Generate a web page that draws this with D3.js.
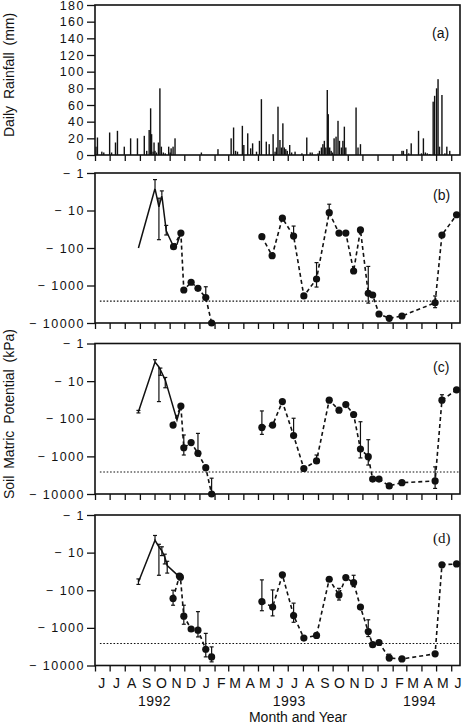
<!DOCTYPE html>
<html lang="en">
<head>
<meta charset="utf-8">
<title>Daily rainfall and soil matric potential</title>
<script src="https://cdn.jsdelivr.net/npm/d3@7"></script>
<style>
  body { margin:0; background:#ffffff; }
  svg { display:block; font-family:"Liberation Sans", Arial, Helvetica, sans-serif; }
  .tick text { font-size:12.5px; letter-spacing:1.5px; fill:#111; }
  .tick line { stroke:#111; stroke-width:1.3; }
</style>
</head>
<body>
<script>

// ---- values ----
// daily rainfall [date, mm]
var rainfall = [
  ["1992-06-03",10],["1992-06-06",21],["1992-06-15",4],["1992-06-19",3],["1992-07-01",27],
  ["1992-07-05",3],["1992-07-13",15],["1992-07-17",29],["1992-07-31",10],["1992-08-13",20],
  ["1992-08-27",20],["1992-09-10",23],["1992-09-15",5],["1992-09-20",30],["1992-09-23",56],
  ["1992-09-25",25],["1992-09-28",4],["1992-09-30",15],["1992-10-02",5],["1992-10-05",3],
  ["1992-10-09",15],["1992-10-12",80],["1992-10-15",10],["1992-10-19",3],["1992-10-23",2],
  ["1992-10-30",10],["1992-11-02",3],["1992-11-04",8],["1992-11-08",10],["1992-11-12",20],
  ["1993-01-05",3],["1993-02-08",7],["1993-03-07",20],["1993-03-12",33],["1993-03-16",5],
  ["1993-03-20",4],["1993-03-30",35],["1993-04-02",12],["1993-04-10",26],["1993-04-16",8],
  ["1993-04-20",14],["1993-04-28",4],["1993-05-04",17],["1993-05-08",67],["1993-05-18",16],
  ["1993-05-24",13],["1993-06-01",25],["1993-06-05",4],["1993-06-08",9],["1993-06-11",58],
  ["1993-06-15",18],["1993-06-18",9],["1993-06-21",38],["1993-06-24",9],["1993-06-27",7],
  ["1993-06-30",5],["1993-07-05",12],["1993-07-09",3],["1993-07-16",4],["1993-07-30",2],
  ["1993-08-09",21],["1993-08-16",3],["1993-08-20",3],["1993-09-01",2],["1993-09-04",5],
  ["1993-09-08",9],["1993-09-11",13],["1993-09-14",17],["1993-09-17",9],["1993-09-20",78],
  ["1993-09-22",49],["1993-09-25",9],["1993-09-28",5],["1993-10-01",3],["1993-10-04",20],
  ["1993-10-08",22],["1993-10-12",41],["1993-10-15",17],["1993-10-19",9],["1993-10-22",17],
  ["1993-10-25",34],["1993-10-28",9],["1993-11-18",57],["1993-11-22",9],["1993-11-27",13],
  ["1994-02-20",5],["1994-02-23",5],["1994-03-02",7],["1994-03-06",2],["1994-03-11",14],
  ["1994-03-26",29],["1994-04-01",2],["1994-04-05",20],["1994-04-09",3],["1994-04-13",2],
  ["1994-04-18",1],["1994-04-25",64],["1994-04-28",71],["1994-05-02",80],["1994-05-05",91],
  ["1994-05-08",10],["1994-05-13",72],["1994-05-19",2],["1994-05-23",10],["1994-05-29",5]
];

// soil matric potential (kPa): [date, value, errLow, errHigh]
var bSolid = [
  ["1992-08-29",-100],["1992-10-02",-2.6,-2.6,-1.5],["1992-10-10",-8,-60,-4.7],
  ["1992-10-16",-4,-4,-3],["1992-10-25",-35,-45,-25],["1992-11-01",-55],
  ["1992-11-09",-92],["1992-11-16",-80],["1992-11-24",-40]
];
var bDots1 = [
  ["1992-11-09",-92],["1992-11-24",-40],["1992-11-30",-1320],["1992-12-15",-820],
  ["1992-12-29",-1190],["1993-01-14",-2100,-2100,-1080],["1993-01-26",-10000]
];
var bDots2 = [
  ["1993-05-09",-50],["1993-05-30",-160],["1993-06-20",-16],["1993-07-13",-48,-48,-26],
  ["1993-08-03",-1900],["1993-08-29",-670,-1100,-245],["1993-09-24",-11.4,-11.4,-6.8],
  ["1993-10-14",-40],["1993-10-28",-40],["1993-11-13",-410],["1993-11-27",-33],
  ["1993-12-13",-1620,-2950,-310],["1993-12-22",-1790],["1994-01-04",-5750],
  ["1994-01-25",-7500,-8500,-6500],["1994-02-20",-6500],["1994-04-29",-2880,-3900,-1900],
  ["1994-05-13",-45],["1994-06-12",-13]
];

var cSolid = [
  ["1992-08-29",-65,-70,-60],["1992-10-02",-3.1,-3.1,-2.7],["1992-10-10",-4.2,-35,-4.2],
  ["1992-10-13",-5,-7,-4.5],["1992-10-23",-9.4,-15,-8],["1992-10-27",-14],
  ["1992-11-16",-108],["1992-11-24",-46]
];
var cDots1 = [
  ["1992-11-08",-147],["1992-11-24",-46],["1992-11-30",-590,-920,-270],["1992-12-15",-430],
  ["1992-12-29",-830,-830,-245],["1993-01-14",-2000],["1993-01-26",-10000,-10000,-3800]
];
var cDots2 = [
  ["1993-05-09",-170,-260,-62],["1993-05-31",-147],["1993-06-20",-35],["1993-07-13",-280,-280,-97],
  ["1993-08-03",-2100],["1993-08-29",-1320,-1320,-920],["1993-09-24",-32],["1993-10-14",-59],
  ["1993-10-28",-42],["1993-11-13",-77],["1993-11-27",-640,-1100,-120],
  ["1993-12-13",-1020,-1700,-360],["1993-12-22",-4000],["1994-01-04",-4000],
  ["1994-01-25",-6100,-6800,-5300],["1994-02-20",-5000],["1994-04-29",-4500,-7100,-1900],
  ["1994-05-13",-32,-32,-23],["1994-06-12",-17]
];

var dSolid = [
  ["1992-08-29",-60,-70,-50],["1992-10-02",-4.7,-4.7,-3.5],["1992-10-10",-7,-40,-6],
  ["1992-10-16",-9,-12,-7],["1992-10-22",-13,-20,-11],["1992-10-27",-22,-35,-17],
  ["1992-11-21",-44]
];
var dDots1 = [
  ["1992-11-08",-165,-250,-100],["1992-11-21",-42],["1992-11-23",-45],["1992-11-30",-490,-800,-250],
  ["1992-12-15",-1070],["1992-12-29",-1150,-1740,-370],["1993-01-14",-3700,-5900,-1400],
  ["1993-01-26",-5900,-8000,-3200]
];
var dDots2 = [
  ["1993-05-09",-200,-350,-53],["1993-05-31",-280,-480,-98],["1993-06-20",-39],
  ["1993-07-13",-470,-710,-220],["1993-08-03",-1870],["1993-08-29",-1590],["1993-09-24",-51],
  ["1993-10-14",-133,-182,-89],["1993-10-28",-46],["1993-11-13",-63,-80,-40],["1993-11-27",-280],
  ["1993-12-13",-1250,-1700,-610],["1993-12-22",-2800],["1994-01-04",-2450],
  ["1994-01-25",-6300,-7500,-5000],["1994-02-20",-6700],["1994-04-29",-4900],
  ["1994-05-13",-21],["1994-06-12",-20]
];

// horizontal dotted reference level (kPa)
var refLevel = -2600;

// tick labels
var rainTicks = [0,20,40,60,80,100,120,140,160,180];
var soilTicks = [-1,-10,-100,-1000,-10000];
var monthLetters = ["J","J","A","S","O","N","D","J","F","M","A","M","J","J","A","S","O","N","D","J","F","M","A","M","J"];
var yearLabels = [["1992","1992-10-01"],["1993","1993-07-04"],["1994","1994-03-28"]];

// ---- layout ----
var w = 474, h = 724;
var left = 95, right = 460;
var parse = d3.timeParse("%Y-%m-%d");

var svg = d3.select("body").append("svg")
  .attr("width", w).attr("height", h);

var x = d3.scaleTime()
  .domain([parse("1992-06-01"), parse("1994-06-19")])
  .range([left, right]);

var monthTicks = d3.timeMonth.range(parse("1992-06-01"), parse("1994-06-02"));

function xAxisTicks(g, bottom) {
  g.append("g")
    .attr("transform", "translate(0," + bottom + ")")
    .call(d3.axisBottom(x).tickValues(monthTicks).tickSize(6).tickFormat(""))
    .call(function(s) { s.select(".domain").remove(); });
}

function frame(g, top, bottom) {
  g.append("rect")
    .attr("x", left).attr("y", top)
    .attr("width", right - left).attr("height", bottom - top)
    .attr("fill", "none").attr("stroke", "#111").attr("stroke-width", 1.6);
}

// ---- panel (a): rainfall ----
var ga = svg.append("g");
var yRain = d3.scaleLinear().domain([0, 180]).range([155, 5]);

ga.selectAll("rect.bar")
  .data(rainfall)
  .enter().append("rect")
  .attr("class", "bar")
  .attr("x", function(d) { return x(parse(d[0])) - 0.7; })
  .attr("y", function(d) { return yRain(d[1]); })
  .attr("width", 1.4)
  .attr("height", function(d) { return yRain(0) - yRain(d[1]); })
  .attr("fill", "#111");

ga.append("g")
  .attr("transform", "translate(" + left + ",0)")
  .call(d3.axisLeft(yRain).tickValues(rainTicks).tickSize(8).tickPadding(2))
  .call(function(s) { s.select(".domain").remove(); });

xAxisTicks(ga, 155);
frame(ga, 5, 155);

ga.append("text")
  .attr("x", 432).attr("y", 38)
  .attr("font-size", 14).attr("fill", "#111")
  .text("(a)");

// ---- panels (b)-(d): soil matric potential ----
var panels = [
  { top:173,   bottom:323,   solid:bSolid, dots:[bDots1, bDots2], label:"(b)", serif:false, ly:200 },
  { top:343.5, bottom:494,   solid:cSolid, dots:[cDots1, cDots2], label:"(c)", serif:false, ly:372 },
  { top:515,   bottom:665.5, solid:dSolid, dots:[dDots1, dDots2], label:"(d)", serif:true,  ly:543 }
];

panels.forEach(function(p) {
  var g = svg.append("g");
  var y = d3.scaleLog().domain([1, 10000]).range([p.top, p.bottom]);
  var yv = function(v) { return y(-v); };

  g.append("g")
    .attr("transform", "translate(" + left + ",0)")
    .call(d3.axisLeft(y).tickValues(soilTicks.map(function(v) { return -v; }))
      .tickSize(8).tickPadding(2)
      .tickFormat(function(d) { return "\u2212 " + d; }))
    .call(function(s) { s.select(".domain").remove(); });

  xAxisTicks(g, p.bottom);

  // dotted reference line
  g.append("line")
    .attr("x1", x(parse("1992-06-11"))).attr("x2", right)
    .attr("y1", yv(refLevel)).attr("y2", yv(refLevel))
    .attr("stroke", "#111").attr("stroke-width", 1.2)
    .attr("stroke-dasharray", "1.6,1.8");

  var line = d3.line()
    .x(function(d) { return x(parse(d[0])); })
    .y(function(d) { return yv(d[1]); });

  // solid series
  g.append("path")
    .datum(p.solid)
    .attr("d", line)
    .attr("fill", "none").attr("stroke", "#111").attr("stroke-width", 1.5);

  // dashed series with circles
  p.dots.forEach(function(seg) {
    g.append("path")
      .datum(seg)
      .attr("d", line)
      .attr("fill", "none").attr("stroke", "#111").attr("stroke-width", 1.6)
      .attr("stroke-dasharray", "4,3");
  });

  var all = p.solid.concat(p.dots[0], p.dots[1]).filter(function(d) { return d.length > 2; });

  // error bars
  var eb = g.selectAll("g.err").data(all).enter().append("g").attr("class", "err");
  eb.append("line")
    .attr("x1", function(d) { return x(parse(d[0])); })
    .attr("x2", function(d) { return x(parse(d[0])); })
    .attr("y1", function(d) { return yv(d[2]); })
    .attr("y2", function(d) { return yv(d[3]); })
    .attr("stroke", "#111").attr("stroke-width", 1.2);
  eb.filter(function(d) { return d[2] !== d[1]; }).append("line")
    .attr("x1", function(d) { return x(parse(d[0])) - 2; })
    .attr("x2", function(d) { return x(parse(d[0])) + 2; })
    .attr("y1", function(d) { return yv(d[2]); })
    .attr("y2", function(d) { return yv(d[2]); })
    .attr("stroke", "#111").attr("stroke-width", 1.2);
  eb.filter(function(d) { return d[3] !== d[1]; }).append("line")
    .attr("x1", function(d) { return x(parse(d[0])) - 2; })
    .attr("x2", function(d) { return x(parse(d[0])) + 2; })
    .attr("y1", function(d) { return yv(d[3]); })
    .attr("y2", function(d) { return yv(d[3]); })
    .attr("stroke", "#111").attr("stroke-width", 1.2);

  g.selectAll("circle")
    .data(p.dots[0].concat(p.dots[1]))
    .enter().append("circle")
    .attr("cx", function(d) { return x(parse(d[0])); })
    .attr("cy", function(d) { return yv(d[1]); })
    .attr("r", 3.6)
    .attr("fill", "#111");

  frame(g, p.top, p.bottom);

  g.append("text")
    .attr("x", 433).attr("y", p.ly)
    .attr("font-size", p.serif ? 15 : 14)
    .attr("font-family", p.serif ? "'Liberation Serif', 'Times New Roman', serif" : null)
    .attr("fill", "#111")
    .text(p.label);
});

// ---- month / year labels under the last panel ----
var labelG = svg.append("g").attr("fill", "#111").attr("text-anchor", "middle");

labelG.selectAll("text.month")
  .data(monthLetters)
  .enter().append("text")
  .attr("class", "month")
  .attr("x", function(d, i) { return x(d3.timeDay.offset(monthTicks[0] ? d3.timeMonth.offset(monthTicks[0], i) : 0, 14)); })
  .attr("y", 688)
  .attr("font-size", 14)
  .text(function(d) { return d; });

labelG.selectAll("text.year")
  .data(yearLabels)
  .enter().append("text")
  .attr("class", "year")
  .attr("x", function(d) { return x(parse(d[1])); })
  .attr("y", 706)
  .attr("font-size", 14)
  .attr("letter-spacing", 0.5)
  .text(function(d) { return d[0]; });

labelG.append("text")
  .attr("x", 298).attr("y", 722)
  .attr("font-size", 14)
  .text("Month and Year");

// ---- y axis titles ----
svg.append("text")
  .attr("transform", "translate(14,75) rotate(-90)")
  .attr("text-anchor", "middle")
  .attr("font-size", 14).attr("word-spacing", 3).attr("fill", "#111")
  .text("Daily Rainfall (mm)");

svg.append("text")
  .attr("transform", "translate(14,414) rotate(-90)")
  .attr("text-anchor", "middle")
  .attr("font-size", 14).attr("word-spacing", 3).attr("fill", "#111")
  .text("Soil Matric Potential (kPa)");

</script>
</body>
</html>
